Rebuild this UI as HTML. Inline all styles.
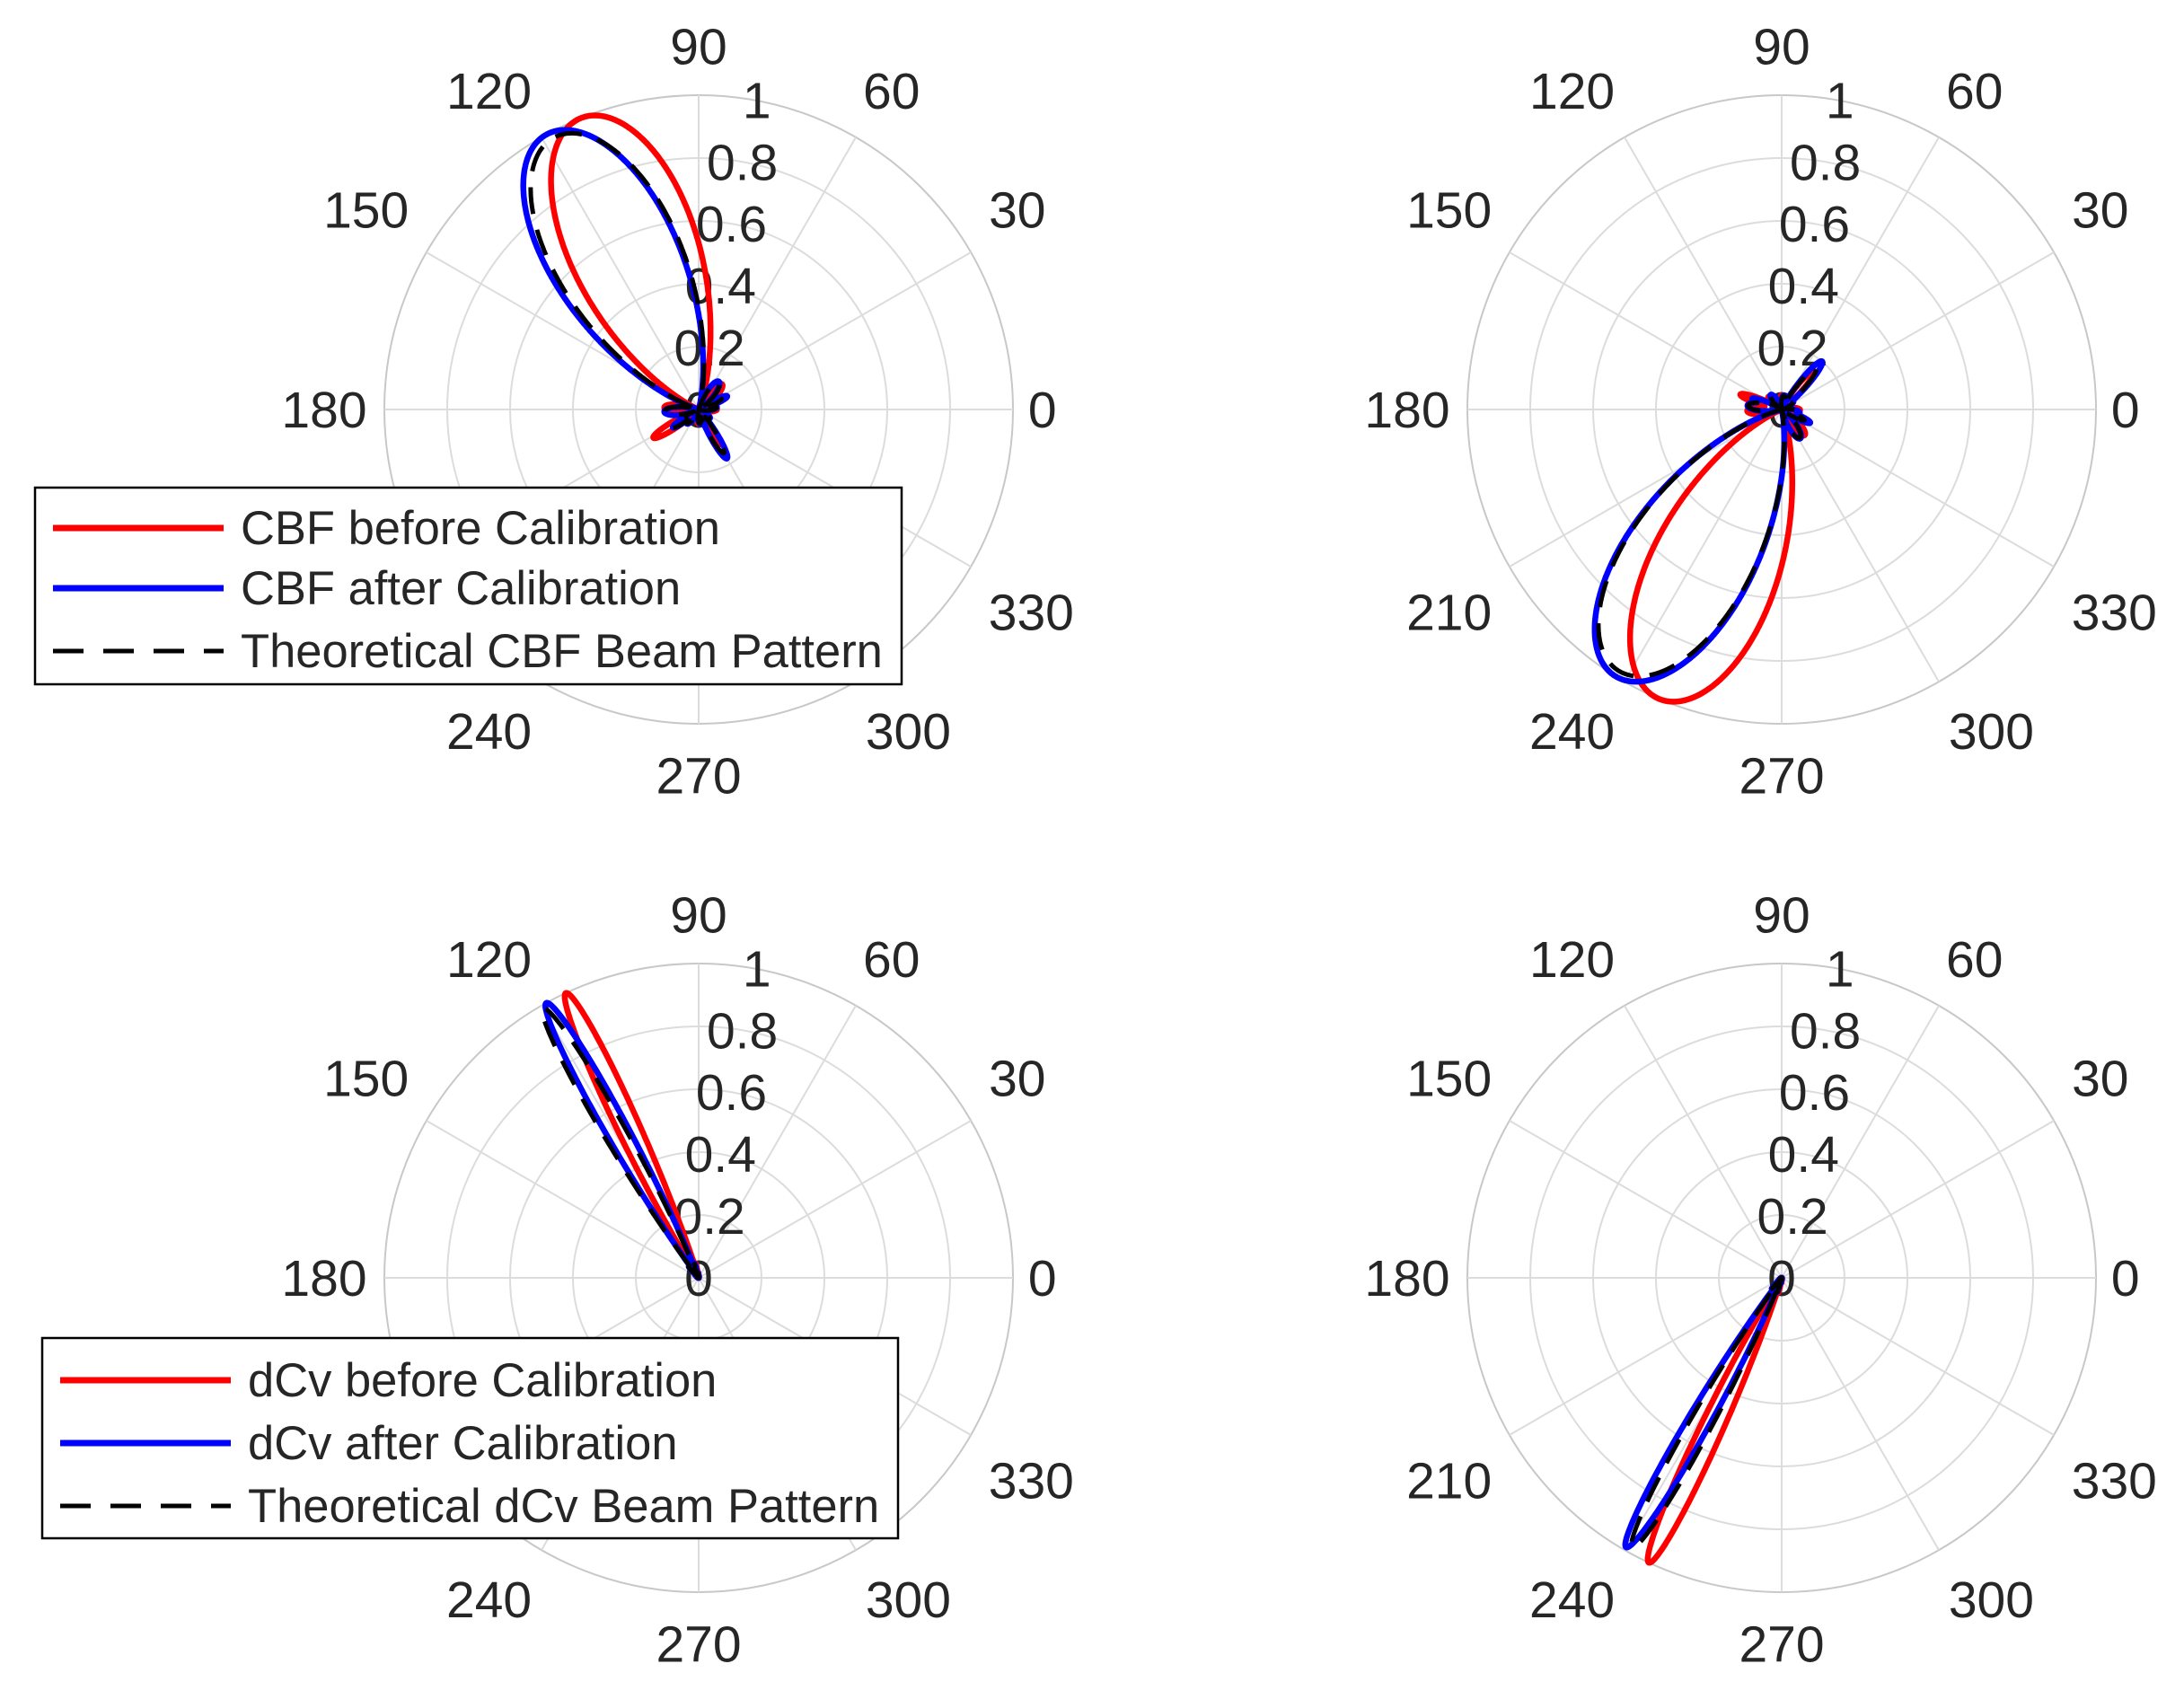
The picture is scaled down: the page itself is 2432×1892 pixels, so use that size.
<!DOCTYPE html>
<html><head><meta charset="utf-8">
<style>
html,body{margin:0;padding:0;background:#fff;}
svg{display:block;}
text{font-family:"Liberation Sans",sans-serif;fill:#262626;}
</style></head>
<body>
<svg id="s" width="2432" height="1892" viewBox="0 0 2432 1892" xmlns="http://www.w3.org/2000/svg">
<g id="plots"></g>
<g id="leg">
  <rect x="39" y="543" width="965" height="219" fill="#fff" stroke="#000" stroke-width="2.5"/>
  <line x1="59" y1="588" x2="249" y2="588" stroke="#f00" stroke-width="7"/>
  <line x1="59" y1="655" x2="249" y2="655" stroke="#00f" stroke-width="7"/>
  <line x1="59" y1="725" x2="249" y2="725" stroke="#000" stroke-width="5" stroke-dasharray="34,22"/>
  <text x="268" y="606" font-size="52.5">CBF before Calibration</text>
  <text x="268" y="673" font-size="52.5">CBF after Calibration</text>
  <text x="268" y="743" font-size="52.5">Theoretical CBF Beam Pattern</text>

  <rect x="47" y="1490" width="953" height="223" fill="#fff" stroke="#000" stroke-width="2.5"/>
  <line x1="67" y1="1537" x2="257" y2="1537" stroke="#f00" stroke-width="7"/>
  <line x1="67" y1="1607" x2="257" y2="1607" stroke="#00f" stroke-width="7"/>
  <line x1="67" y1="1677" x2="257" y2="1677" stroke="#000" stroke-width="5" stroke-dasharray="34,22"/>
  <text x="276" y="1555" font-size="52.5">dCv before Calibration</text>
  <text x="276" y="1625" font-size="52.5">dCv after Calibration</text>
  <text x="276" y="1695" font-size="52.5">Theoretical dCv Beam Pattern</text>
</g>
</svg>
<script>
(function(){
var NS="http://www.w3.org/2000/svg";
var g=document.getElementById("plots");
var R=350;
function el(t,a,p){var e=document.createElementNS(NS,t);for(var k in a)e.setAttribute(k,a[k]);(p||g).appendChild(e);return e;}
function f(d,N,c,p){var u=c*d;var s=Math.sin(u);var v=Math.abs(s)<1e-9?1:Math.abs(Math.sin(N*u)/(N*s));return Math.pow(v,p);}
function wrap(d){return Math.atan2(Math.sin(d),Math.cos(d));}
function curve(cx,cy,th0,N,c,p,amp,col,dash,side){
  var pts=[];for(var i=0;i<=2880;i++){var t=i/8;var d=wrap((t-th0)*Math.PI/180);
   var r=amp*f(d,N,c,p);
   if(side)side.forEach(function(s){var ds=wrap((t-s[0])*Math.PI/180)/(s[2]*Math.PI/180);var v=s[1]*Math.exp(-ds*ds);if(v>r)r=v;});
   r*=R;var a=t*Math.PI/180;
   pts.push((cx+r*Math.cos(a)).toFixed(1)+","+(cy-r*Math.sin(a)).toFixed(1));}
  var at={points:pts.join(" "),fill:"none",stroke:col,"stroke-width":dash?5:6.5,"stroke-linejoin":"round"};
  if(dash)at["stroke-dasharray"]="30,18";
  el("polyline",at);
}
var off={0:[246,0],30:[228,-143],60:[138,-228],90:[0,-260],120:[-150,-228],150:[-238,-143],180:[-268,0],210:[-238,145],240:[-150,230],270:[0,262],300:[150,230],330:[238,145]};
function axes(cx,cy){
  for(var k=1;k<=5;k++)el("circle",{cx:cx,cy:cy,r:R*k/5,fill:"none",stroke:k==5?"#c8c8c8":"#dcdcdc","stroke-width":2});
  for(var a=0;a<360;a+=30){var rr=a*Math.PI/180;
    el("line",{x1:cx,y1:cy,x2:cx+R*Math.cos(rr),y2:cy-R*Math.sin(rr),stroke:"#dcdcdc","stroke-width":2});
    var o=off[a];
    var t=el("text",{x:cx+o[0]*1.556,y:cy+o[1]*1.556+20,"font-size":57,"text-anchor":"middle"});t.textContent=a;}
  var labs=["0","0.2","0.4","0.6","0.8","1"];
  for(var k=0;k<=5;k++){var rr=80*Math.PI/180;var r=R*k/5;
    var t=el("text",{x:cx+r*Math.cos(rr)+(k==5?4:0),y:cy-r*Math.sin(rr)+20,"font-size":57,"text-anchor":"middle"});t.textContent=labs[k];}
}
var C=[[778,456],[1984,456],[778,1423],[1984,1423]];
C.forEach(function(c){axes(c[0],c[1]);});
// TL
curve(778,456,112,8,0.5,1.5,1,"#f00",false,[[212,0.17,9],[300,0.13,9],[25,0.1,9]]);
curve(778,456,119,8,0.5,1.5,1,"#00f",false,[[300,0.18,9],[215,0.1,9],[25,0.1,9]]);
curve(778,456,118,8,0.5,1.5,0.98,"#000",true,[[300,0.16,9],[215,0.1,9],[25,0.08,9]]);
// TR
curve(1984,456,247,8,0.5,1.5,1,"#f00",false,[[160,0.14,9],[50,0.16,9],[335,0.1,9]]);
curve(1984,456,238,8,0.5,1.5,1,"#00f",false,[[50,0.2,9],[160,0.1,9],[335,0.1,9]]);
curve(1984,456,238,8,0.5,1.5,0.98,"#000",true,[[50,0.17,9],[160,0.08,9],[335,0.08,9]]);
// BL
curve(778,1423,115,40,0.5,2,1,"#f00");
curve(778,1423,119,40,0.5,2,1,"#00f");
curve(778,1423,120,40,0.5,2,0.99,"#000",true);
// BR
curve(1984,1423,245,40,0.5,2,1,"#f00");
curve(1984,1423,240,40,0.5,2,0.99,"#00f");
curve(1984,1423,241,40,0.5,2,0.98,"#000",true);
document.getElementById("s").appendChild(document.getElementById("leg"));
})();
</script>
</body></html>
